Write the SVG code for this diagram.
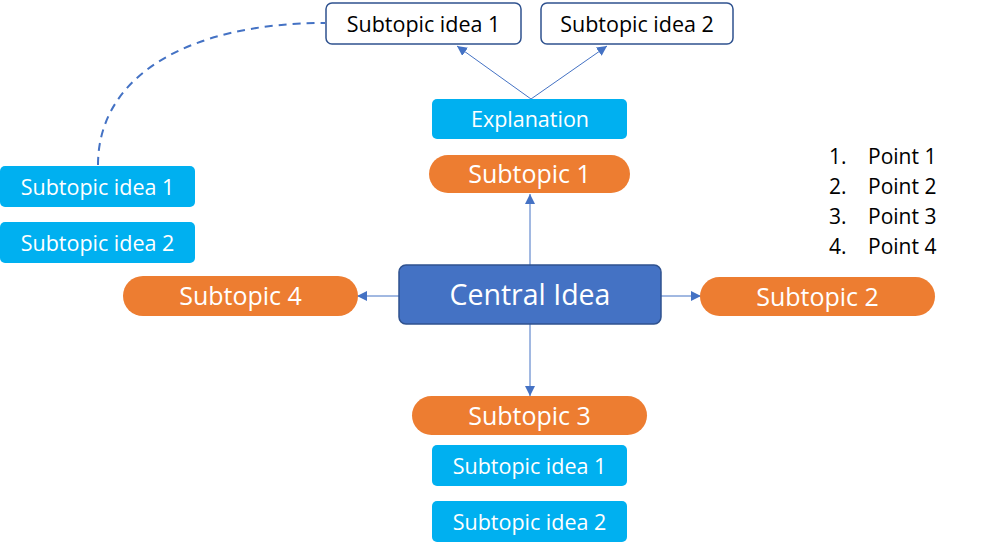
<svg xmlns="http://www.w3.org/2000/svg" width="981" height="552" viewBox="0 0 981 552">
<defs>
<marker id="ah" viewBox="0 0 10 10" refX="10" refY="5" markerWidth="10" markerHeight="10" markerUnits="userSpaceOnUse" orient="auto">
<path d="M0,0 L10,5 L0,10 z" fill="#4472C4"/>
</marker>
<style>
text{font-family:"Open Sans","Liberation Sans",sans-serif;text-anchor:middle;dominant-baseline:central}
.o rect{fill:#ED7D31}
.o text{fill:#fff;font-size:25px}
.b rect{fill:#00B0F0}
.b text{fill:#fff;font-size:21.5px}
.w rect{fill:#fff;stroke:#2F528F;stroke-width:1.5}
.w text{fill:#000;font-size:21.5px}
.c rect{fill:#4472C4;stroke:#2F528F;stroke-width:1.5}
.c text{fill:#fff;font-size:28.5px}
.l{font-size:21px;fill:#000;text-anchor:start}
.e{stroke:#4472C4;stroke-width:1;fill:none}
.d{stroke:#4472C4;stroke-width:2;fill:none;stroke-dasharray:8,6}
</style>
</defs>
<g id="connectors">
<line class="e" x1="530" y1="265" x2="530" y2="194" marker-end="url(#ah)"/>
<line class="e" x1="530" y1="324" x2="530" y2="396" marker-end="url(#ah)"/>
<line class="e" x1="399" y1="296" x2="357" y2="296" marker-end="url(#ah)"/>
<line class="e" x1="661" y1="296" x2="701" y2="296" marker-end="url(#ah)"/>
<line class="e" x1="531" y1="99" x2="457" y2="46" marker-end="url(#ah)"/>
<line class="e" x1="531" y1="99" x2="607" y2="46" marker-end="url(#ah)"/>
<path class="d" d="M98,165 C98,75 190,23 325,23"/>
</g>
<g id="central" class="c"><rect x="399" y="265" width="262" height="59" rx="7"/><text x="530" y="294">Central Idea</text></g>
<g id="subtopic1" class="o"><rect x="429" y="155" width="201" height="38" rx="19"/><text x="529.5" y="173">Subtopic 1</text></g>
<g id="subtopic2" class="o"><rect x="700" y="277" width="235" height="39" rx="19.5"/><text x="817.5" y="295.5">Subtopic 2</text></g>
<g id="subtopic3" class="o"><rect x="412" y="396" width="235" height="39" rx="19.5"/><text x="529.5" y="414.5">Subtopic 3</text></g>
<g id="subtopic4" class="o"><rect x="123" y="276" width="235" height="40" rx="20"/><text x="240.5" y="295">Subtopic 4</text></g>
<g id="explanation" class="b"><rect x="432" y="99" width="195" height="40" rx="5"/><text x="530" y="118.5">Explanation</text></g>
<g id="top-idea1" class="w"><rect x="326" y="3" width="195" height="41" rx="6"/><text x="423.5" y="23">Subtopic idea 1</text></g>
<g id="top-idea2" class="w"><rect x="541" y="3" width="192" height="41" rx="6"/><text x="637" y="23">Subtopic idea 2</text></g>
<g id="left-idea1" class="b"><rect x="0" y="166" width="195" height="41" rx="5"/><text x="97.5" y="186">Subtopic idea 1</text></g>
<g id="left-idea2" class="b"><rect x="0" y="222" width="195" height="41" rx="5"/><text x="97.5" y="242">Subtopic idea 2</text></g>
<g id="bottom-idea1" class="b"><rect x="432" y="445" width="195" height="41" rx="5"/><text x="529.5" y="465">Subtopic idea 1</text></g>
<g id="bottom-idea2" class="b"><rect x="432" y="501" width="195" height="41" rx="5"/><text x="529.5" y="521">Subtopic idea 2</text></g>
<g id="points">
<text class="l" x="829" y="156">1.</text><text class="l" x="868" y="156">Point 1</text>
<text class="l" x="829" y="186">2.</text><text class="l" x="868" y="186">Point 2</text>
<text class="l" x="829" y="216">3.</text><text class="l" x="868" y="216">Point 3</text>
<text class="l" x="829" y="246">4.</text><text class="l" x="868" y="246">Point 4</text>
</g>
</svg>
